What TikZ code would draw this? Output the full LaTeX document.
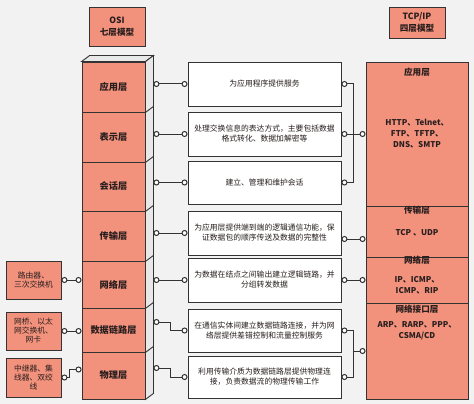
\documentclass[tikz,border=0pt]{standalone}
\usepackage{fontspec}
\setmainfont{Noto Sans CJK SC}
\usetikzlibrary{arrows.meta,positioning,calc}
\definecolor{salmon}{RGB}{243,146,124}
\definecolor{edge}{RGB}{51,51,51}
\definecolor{paper}{RGB}{242,242,242}
\definecolor{sideface}{RGB}{232,232,232}
\definecolor{ink}{RGB}{40,30,30}

\tikzset{
	box/.style={draw=edge, line width=0.9pt, inner sep=0pt, align=center, text=ink},
	header/.style={box, fill=salmon, minimum width=56pt, font=\bfseries\fontsize{8.6}{12}\selectfont},
	osilayer/.style={box, fill=salmon, minimum width=63pt, font=\bfseries\fontsize{9.2}{11}\selectfont},
	devbox/.style={box, fill=salmon, minimum width=55pt, font=\fontsize{7.8}{9}\selectfont},
	descbox/.style={box, fill=white, minimum width=153pt, font=\fontsize{7.8}{10}\selectfont},
	tcplayer/.style={box, fill=salmon, minimum width=102pt},
	tcptitle/.style={inner sep=0pt, text=ink, font=\bfseries\fontsize{8.6}{10}\selectfont},
	tcptext/.style={inner sep=0pt, align=center, text=ink, font=\bfseries\fontsize{8}{11}\selectfont},
	ring/.tip={Circle[open, fill=white, length=6pt]},
	link/.style={draw=edge, line width=1pt, ring-ring},
	spur/.style={draw=edge, line width=1pt, ring-},
}

\begin{document}
\begin{tikzpicture}[x=1pt, y=-1pt]
		\fill[paper] (0,0) rectangle (474,404);
		\useasboundingbox (0,0) rectangle (474,404);

		\node[header, minimum height=39pt] (osi) at (117,26.5) {OSI\\七层模型};
		\node[header, minimum height=31pt] (tcpip) at (417,22.5) {TCP/IP\\四层模型};

		% OSI stack
		\foreach \n/\t/\b/\txt in {1/62/112/应用层, 2/112/162/表示层, 3/162/211/会话层, 4/211/261/传输层, 5/261/308/网络层, 6/308/352/数据链路层, 7/352/399/物理层}
			\node[osilayer, minimum height={(\b-\t)*1pt}] (osi\n) at (113.5,{(\t+\b)/2}) {\txt};
		\filldraw[fill=sideface, draw=edge, line width=0.9pt] (osi1.north west) -- ++(8,-6) -- ([shift={(8,-6)}]osi1.north east) -- (osi1.north east) -- cycle;
		\filldraw[fill=sideface, draw=edge, line width=0.9pt] (osi1.north east) -- ++(8,-6) -- ([shift={(8,-6)}]osi7.south east) -- (osi7.south east) -- cycle;
		\foreach \i in {1,...,6}
			\draw[edge, line width=0.9pt] (osi\i.south east) -- ++(8,-6);

		% descriptions
		\foreach \n/\t/\b/\txt in {1/62/106/{为应用程序提供服务}, 2/112/156/{处理交换信息的表达方式，主要包括数据\\格式转化、数据加解密等}, 3/161/204/{建立、管理和维护会话}, 4/211/255/{为应用层提供端到端的逻辑通信功能，保\\证数据包的顺序传送及数据的完整性}, 5/258/302/{为数据在结点之间输出建立逻辑链路，并\\分组转发数据}, 6/309/352/{在通信实体间建立数据链路连接，并为网\\络层提供差错控制和流量控制服务}, 7/356/398/{利用传输介质为数据链路层提供物理连\\接，负责数据流的物理传输工作}}
			\node[descbox, minimum height={(\b-\t)*1pt}] (desc\n) at (264.5,{(\t+\b)/2}) {\txt};

		% devices
		\node[devbox, minimum height=38pt] (dev1) at (33.5,280) {路由器、\\三次交换机};
		\node[devbox, minimum height=38pt] (dev2) at (33.5,331) {网桥、以太\\网交换机、\\网卡};
		\node[devbox, minimum height=39pt] (dev3) at (33.5,377.5) {中继器、集\\线器、双绞\\线};

		% TCP/IP stack
		\node[tcplayer, minimum height=144pt] (tcp1) at (417,134) {};
		\node[tcplayer, minimum height=51pt] (tcp2) at (417,231.5) {};
		\node[tcplayer, minimum height=46pt] (tcp3) at (417,280) {};
		\node[tcplayer, minimum height=96pt] (tcp4) at (417,351) {};
		\node[tcptitle] (t1) at ([yshift=-11pt]tcp1.north) {应用层};
		\node[tcptext] (c1) at (tcp1.center) {HTTP、Telnet、\\FTP、TFTP、\\DNS、SMTP};
		\node[tcptitle] (t2) at ([yshift=-4.5pt]tcp2.north) {传输层};
		\node[tcptext] (c2) at ([yshift=-1.5pt]tcp2.center) {TCP 、UDP};
		\node[tcptitle] (t3) at ([yshift=-4pt]tcp3.north) {网络层};
		\node[tcptext] (c3) at ([yshift=-5pt]tcp3.center) {IP、ICMP、\\ICMP、RIP};
		\node[tcptitle] (t4) at ([yshift=-7pt]tcp4.north) {网络接口层};
		\node[tcptext] (c4) at ([yshift=20pt]tcp4.center) {ARP、RARP、PPP、\\CSMA/CD};

		% OSI to descriptions
		\foreach \i in {1,...,5}
			\draw[link] ([xshift=8pt]osi\i.east |- desc\i.west) -- (desc\i.west);
		\draw[link] ([xshift=8pt, yshift=8pt]osi6.east) -- ++(17,0) |- (desc6.west);
		\draw[link] ([xshift=8pt, yshift=7.5pt]osi7.east) -- ++(17,0) |- (desc7.west);

		% devices to OSI
		\draw[link] (dev1.east) -- (osi5.west |- dev1.east);
		\draw[link] (dev2.east) -- (osi6.west |- dev2.east);
		\draw[link] (dev3.east) -- ++(8,0) |- ([yshift=6pt]osi7.west);

		% descriptions to TCP/IP
		\coordinate (jA) at ([xshift=12pt]desc2.east);
		\draw[spur] (desc1.east) -| (jA);
		\draw[spur] (desc3.east) -| (jA);
		\draw[link] (desc2.east) -- (tcp1.west |- desc2.east);
		\coordinate (r4) at ([yshift=-6pt]desc4.east);
		\draw[link] (r4) -- (tcp2.west |- r4);
		\draw[link] (desc5.east) -- (tcp3.west |- desc5.east);
		\coordinate (jB) at ([xshift=-12pt]tcp4.west);
		\draw[spur] (desc6.east) -| (jB);
		\draw[spur] (desc7.east) -| (jB);
		\draw[spur] (tcp4.west) -- (jB);
	\end{tikzpicture}
\end{document}
